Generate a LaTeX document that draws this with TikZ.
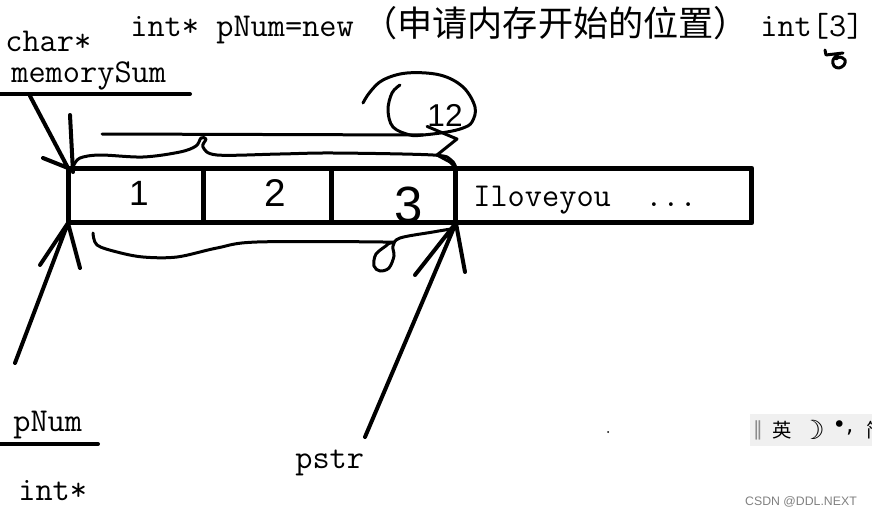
\documentclass[tikz,border=0pt]{standalone}
\usepackage{fontspec}
\setsansfont{Liberation Sans}
\newfontfamily\cjk{Noto Sans CJK SC}
\newfontfamily\symb{DejaVu Sans}
\usetikzlibrary{positioning}
\begin{document}
\begin{tikzpicture}[x=0.02cm,y=-0.02cm,line join=round,line cap=round,
	cell/.style={draw,line width=0.1cm,minimum height=1.1cm,inner sep=0,outer sep=0},
	code/.style={inner sep=0,anchor=base west,font=\fontsize{19}{22}\selectfont\ttfamily},
	digit/.style={inner sep=0,font=\sffamily\fontsize{20}{22}\selectfont},
	hand/.style={line width=0.06cm},
	pen/.style={line width=0.08cm},
	ime/.style={inner sep=0,font=\fontsize{11}{12}\selectfont}]
	\useasboundingbox (0,0) rectangle (872,517);
	%bộ nhớ
	\node[cell,minimum width=2.72cm,anchor=north west] (c1) at (68,168) {};
	\node[cell,minimum width=2.56cm,right=0pt of c1] (c2) {};
	\node[cell,minimum width=2.48cm,right=0pt of c2] (c3) {};
	\node[cell,minimum width=5.92cm,right=0pt of c3] (c4) {};
	\node[digit] (d1) at (139,193) {1};
	\node[digit,font=\sffamily\fontsize{22}{24}\selectfont] (d2) at (275,193) {2};
	\node[digit,font=\sffamily\fontsize{29}{32}\selectfont] (d3) at (409,205) {3};
	\node[code] (str) at (473,206) {Iloveyou\ \ ...};
	%chữ
	\node[code] (title) at (130,37) {int* pNum=new};
	\node[code,font=\cjk\fontsize{20}{22}\selectfont] (note) at (362,37) {（申请内存开始的位置）};
	\node[code] (arr) at (760,37) {int[3]};
	\node[code] (charlbl) at (5,52) {char*};
	\node[code] (memlbl) at (11,83) {memorySum};
	\node[code] (pnumlbl) at (13,431) {pNum};
	\node[code] (intlbl) at (18,500) {int*};
	\node[code] (pstrlbl) at (295,468) {pstr};
	\draw[pen] (0,94)--(190,94) (0,444)--(98,444);
	%mũi tên
	\coordinate (memtail) at (30,96);
	\coordinate (memA) at (43,158);
	\coordinate (memB) at (70,115);
	\draw[pen] (memtail)--(c1.north west) (memA)--(c1.north west) (memB)--([shift={(5,4)}]c1.north west);
	\coordinate (pnumtail) at (15,363);
	\coordinate (pnumA) at (40,265);
	\coordinate (pnumB) at (80,268);
	\draw[pen] (pnumtail)--(c1.south west) (pnumA)--(c1.south west) (pnumB)--(c1.south west);
	\coordinate (pstrtail) at (365,437);
	\coordinate (pstrA) at (415,275);
	\coordinate (pstrB) at (465,272);
	\draw[pen] (pstrtail)--(c3.south east) (pstrA)--(c3.south east) (pstrB)--(c3.south east);
	%ngoặc trên
	\draw[hand] plot[smooth,tension=.55] coordinates {(74,165) (80,158) (100,155) (143,157) (180,152) (196,146) (201,138) (206,139) (203,147) (217,155) (280,154) (333,153) (433,155) (451,160) (456,168)};
	\draw[hand] (102,134)--(423,135);
	\draw[hand] plot[smooth,tension=.6] coordinates {(363,103) (370,92) (383,80) (407,73) (440,75) (463,87) (475,107) (472,122) (463,128) (447,132) (423,135) (410,135) (393,127) (388,110) (392,93) (400,85)};
	\node[digit,font=\sffamily\fontsize{18}{20}\selectfont] (bytes) at (445,115) {12};
	\coordinate (hook) at (457,139);
	\draw[hand] (bytes.south west)--(hook)--(437,155)--(450,162)--(c3.north east);
	%ngoặc dưới
	\draw[hand] plot[smooth,tension=.55] coordinates {(93,233) (97,245) (117,252) (143,257) (177,257) (217,248) (257,242) (383,242) (388,244) (376,254) (374,266) (380,271) (389,268) (394,256) (393,246) (400,238) (433,232) (457,228)};
	%dấu
	\draw[hand] (825,50)--(826,55)--(843,53);
	\draw[hand] plot[smooth,tension=.6] coordinates {(838,54) (833,60) (834,66) (839,68) (844,65) (845,60) (840,57) (836,59)};
	\fill (608,432) circle (1);
	%thanh gõ
	\begin{scope}
		\clip (750,414) rectangle (872,446);
		\fill[black!6] (750,414) rectangle (872,446);
		\node[ime,text=black!45] (bar) at (758,430) {\symb ‖};
		\node[ime] (ying) at (782,430) {\cjk 英};
		\node[ime,font=\fontsize{15}{16}\selectfont] (moon) at (813,430) {\symb ☽};
		\node[ime,font=\fontsize{13}{14}\selectfont] (punct) at (843,428) {\symb •,};
		\node[ime] (jian) at (876,430) {\cjk 简};
	\end{scope}
	\node[inner sep=0,text=black!50,font=\sffamily\fontsize{7}{8}\selectfont] (mark) at (801,502) {CSDN @DDL.NEXT};
\end{tikzpicture}
\end{document}
